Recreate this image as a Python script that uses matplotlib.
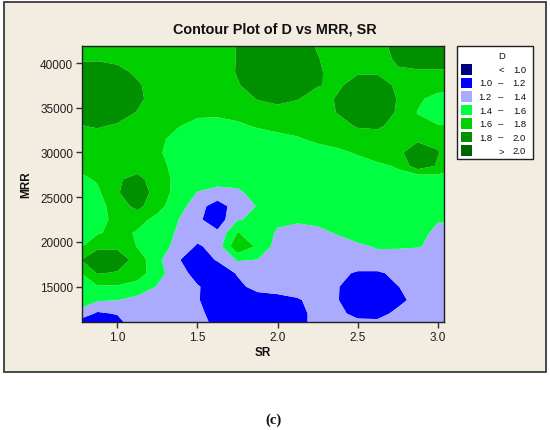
import matplotlib
matplotlib.use("Agg")
import matplotlib.pyplot as plt
from matplotlib.patches import Rectangle
import numpy as np

# ---- data ----
SR = [0.75, 0.875, 1.0, 1.125, 1.25, 1.375, 1.5, 1.625, 1.75, 1.875,
      2.0, 2.125, 2.25, 2.375, 2.5, 2.625, 2.75, 2.875, 3.0, 3.125]
MRR = [10500, 12000, 13500, 15000, 16500, 18000, 19500, 21000, 22500, 24000, 25500,
       27000, 28500, 30000, 31500, 33000, 34500, 36000, 37500, 39000, 40500, 42000]

D_10500 = [1.02, 1.02, 1.08, 1.30, 1.32, 1.33, 1.30, 1.15, 1.02, 1.01, 1.02, 1.10, 1.30, 1.32, 1.30, 1.30, 1.32, 1.32, 1.33, 1.33]
D_12000 = [1.36, 1.17, 1.215, 1.27, 1.30, 1.30, 1.26, 1.10, 1.02, 1.02, 1.05, 1.12, 1.28, 1.25, 1.14, 1.13, 1.25, 1.28, 1.32, 1.33]
D_13500 = [1.50, 1.42, 1.402, 1.35, 1.32, 1.28, 1.22, 1.05, 1.05, 1.08, 1.12, 1.18, 1.27, 1.21, 1.05, 1.02, 1.14, 1.27, 1.32, 1.33]
D_15000 = [1.52, 1.58, 1.58, 1.50, 1.39, 1.30, 1.22, 1.08, 1.14, 1.28, 1.30, 1.30, 1.28, 1.21, 1.10, 1.08, 1.195, 1.26, 1.30, 1.30]
D_16500 = [1.55, 1.81, 1.78, 1.72, 1.45, 1.32, 1.10, 1.05, 1.22, 1.30, 1.33, 1.33, 1.31, 1.26, 1.17, 1.17, 1.25, 1.28, 1.28, 1.27]
D_18000 = [1.76, 1.98, 1.92, 1.72, 1.45, 1.22, 1.08, 1.22, 1.42, 1.395, 1.30, 1.27, 1.27, 1.30, 1.36, 1.36, 1.31, 1.30, 1.28, 1.26]
D_19500 = [1.55, 1.74, 1.76, 1.59, 1.45, 1.37, 1.17, 1.28, 1.78, 1.56, 1.32, 1.28, 1.30, 1.34, 1.38, 1.41, 1.42, 1.41, 1.36, 1.32]
D_21000 = [1.55, 1.58, 1.66, 1.58, 1.50, 1.38, 1.30, 1.24, 1.61, 1.50, 1.38, 1.35, 1.37, 1.41, 1.45, 1.47, 1.47, 1.44, 1.37, 1.35]
D_22500 = [1.50, 1.55, 1.64, 1.66, 1.55, 1.41, 1.24, 1.08, 1.385, 1.44, 1.43, 1.42, 1.43, 1.45, 1.46, 1.46, 1.46, 1.45, 1.41, 1.405]
D_24000 = [1.48, 1.52, 1.70, 1.86, 1.66, 1.50, 1.28, 1.10, 1.30, 1.41, 1.48, 1.52, 1.54, 1.55, 1.55, 1.54, 1.53, 1.51, 1.48, 1.45]
D_25500 = [1.50, 1.56, 1.78, 1.95, 1.70, 1.54, 1.39, 1.34, 1.37, 1.46, 1.50, 1.52, 1.53, 1.53, 1.53, 1.52, 1.51, 1.50, 1.48, 1.46]
D_27000 = [1.55, 1.62, 1.77, 1.88, 1.66, 1.57, 1.50, 1.47, 1.46, 1.45, 1.44, 1.44, 1.45, 1.47, 1.49, 1.51, 1.53, 1.42, 1.50, 1.50]
D_28500 = [1.63, 1.66, 1.68, 1.68, 1.64, 1.56, 1.48, 1.44, 1.43, 1.42, 1.42, 1.43, 1.45, 1.48, 1.52, 1.56, 1.62, 1.92, 1.78, 1.62]
D_30000 = [1.72, 1.72, 1.71, 1.68, 1.62, 1.54, 1.48, 1.46, 1.46, 1.46, 1.47, 1.49, 1.52, 1.56, 1.62, 1.70, 1.76, 1.90, 1.81, 1.70]
D_31500 = [1.72, 1.72, 1.70, 1.68, 1.63, 1.56, 1.50, 1.48, 1.49, 1.51, 1.54, 1.58, 1.64, 1.68, 1.70, 1.72, 1.74, 1.77, 1.76, 1.72]
D_33000 = [1.79, 1.82, 1.78, 1.72, 1.66, 1.61, 1.56, 1.55, 1.57, 1.62, 1.66, 1.68, 1.70, 1.73, 1.82, 1.83, 1.74, 1.66, 1.61, 1.60]
D_34500 = [1.93, 1.93, 1.89, 1.79, 1.70, 1.65, 1.63, 1.63, 1.66, 1.70, 1.72, 1.70, 1.70, 1.81, 1.91, 1.91, 1.78, 1.59, 1.48, 1.44]
D_36000 = [1.95, 1.96, 1.93, 1.85, 1.70, 1.64, 1.63, 1.64, 1.70, 1.81, 1.86, 1.81, 1.72, 1.82, 1.93, 1.94, 1.79, 1.64, 1.52, 1.48]
D_37500 = [1.95, 1.95, 1.92, 1.83, 1.70, 1.64, 1.64, 1.68, 1.78, 1.92, 1.97, 1.95, 1.81, 1.77, 1.88, 1.88, 1.77, 1.72, 1.70, 1.70]
D_39000 = [1.92, 1.92, 1.86, 1.76, 1.68, 1.64, 1.66, 1.66, 1.82, 1.96, 1.99, 1.97, 1.83, 1.72, 1.78, 1.78, 1.78, 1.78, 1.78, 1.78]
D_40500 = [1.76, 1.77, 1.75, 1.70, 1.66, 1.65, 1.67, 1.70, 1.81, 1.95, 1.98, 1.94, 1.81, 1.71, 1.70, 1.73, 1.83, 1.88, 1.88, 1.88]
D_42000 = [1.70, 1.70, 1.70, 1.68, 1.66, 1.66, 1.68, 1.72, 1.81, 1.92, 1.95, 1.90, 1.78, 1.70, 1.70, 1.76, 1.84, 1.90, 1.92, 1.92]

D_ROWS = [D_10500, D_12000, D_13500, D_15000, D_16500, D_18000, D_19500, D_21000,
          D_22500, D_24000, D_25500, D_27000, D_28500, D_30000, D_31500, D_33000,
          D_34500, D_36000, D_37500, D_39000, D_40500, D_42000]

LEVELS = [0.0, 1.0, 1.2, 1.4, 1.6, 1.8, 2.0, 3.0]
COLORS = ['#000080', '#0000FF', '#AAAAFF', '#00FF40', '#00D000', '#009000', '#006400']
X_TICKS = [1.0, 1.5, 2.0, 2.5, 3.0]
Y_TICKS = [15000, 20000, 25000, 30000, 35000, 40000]

TITLE = "Contour Plot of D vs MRR, SR"
XLABEL = "SR"
YLABEL = "MRR"
LEGEND_TITLE = "D"
CAPTION = "(c)"

# ---- figure ----
W, H = 550, 431
fig = plt.figure(figsize=(W / 100, H / 100), dpi=100, facecolor='white')
FONT = 'Liberation Sans'

def px_axes(zorder):
    a = fig.add_axes([0, 0, 1, 1], zorder=zorder)
    a.set_xlim(0, W)
    a.set_ylim(H, 0)
    a.axis('off')
    return a

bg = px_axes(0)
bg.add_patch(Rectangle((3.5, 3.3), 542.2, 370.0, facecolor='#F2ECE1',
                       edgecolor='#3A3A3A', linewidth=1.3))

L, R, T, B = 82.3, 444.3, 47.3, 322.5
ax = fig.add_axes([L / W, (H - B) / H, (R - L) / W, (B - T) / H], zorder=1)
Z = np.array(D_ROWS)
ax.contourf(SR, MRR, Z, levels=LEVELS, colors=COLORS, antialiased=True)
ax.set_xlim(0.781, 3.041)
ax.set_ylim(11110, 41870)
ax.set_xticks(X_TICKS)
ax.set_xticklabels([f"{v:.1f}" for v in X_TICKS])
ax.set_yticks(Y_TICKS)
ax.set_yticklabels([str(v) for v in Y_TICKS])
ax.tick_params(direction='out', length=4.5, width=1.0, color='#303030',
               labelsize=8.5, labelcolor='#202020', pad=2)
for lab in ax.get_xticklabels() + ax.get_yticklabels():
    lab.set_fontfamily(FONT)
for s in ax.spines.values():
    s.set_color('#202020')
    s.set_linewidth(1.0)

ov = px_axes(2)
ov.text(274.5, 30, TITLE, ha='center', va='center', fontsize=10.4,
        fontweight='bold', family=FONT, color='#101010')
ov.text(263.3, 352.7, XLABEL, ha='center', va='center', fontsize=8.5,
        fontweight='bold', family=FONT, color='#101010')
ov.text(26, 185, YLABEL, ha='center', va='center', rotation=90, fontsize=8.5,
        fontweight='bold', family=FONT, color='#101010')
ov.text(274, 420, CAPTION, ha='center', va='center', fontsize=10.5,
        fontweight='bold', family='Liberation Serif', color='#101010')

# legend box
ov.add_patch(Rectangle((456.7, 47.3), 76.6, 112.7, facecolor='white',
                       edgecolor='#202020', linewidth=1.0))
ov.text(501.7, 56.7, LEGEND_TITLE, ha='center', va='center', fontsize=6.8,
        family=FONT, color='#101010')
n = len(COLORS)
for i in range(n):
    cy = 70.3 + i * 13.57
    ov.add_patch(Rectangle((461, cy - 5.3), 11.3, 10.6, facecolor=COLORS[i],
                           edgecolor='none'))
    if i == 0:
        lo, mid, hi = '', '<', f"{LEVELS[1]:.1f}"
    elif i == n - 1:
        lo, mid, hi = '', '>', f"{LEVELS[n - 1]:.1f}"
    else:
        lo, mid, hi = f"{LEVELS[i]:.1f}", '\u2013', f"{LEVELS[i + 1]:.1f}"
    ov.text(492, cy, lo, ha='right', va='center', fontsize=6.8, family=FONT, color='#101010')
    ov.text(501, cy, mid, ha='center', va='center', fontsize=6.8, family=FONT, color='#101010')
    ov.text(526, cy, hi, ha='right', va='center', fontsize=6.8, family=FONT, color='#101010')

fig.savefig('out.png', dpi=100, facecolor='white')
